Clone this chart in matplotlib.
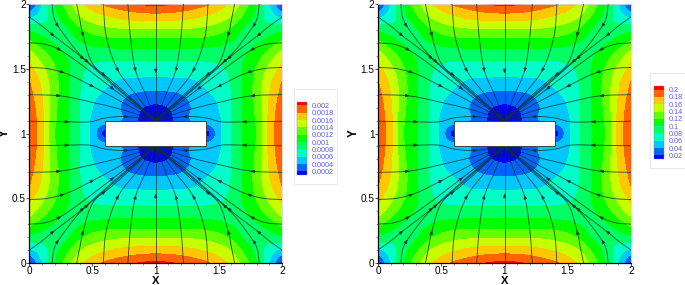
import numpy as np
import matplotlib
matplotlib.use("Agg")
import matplotlib.pyplot as plt
from matplotlib.colors import ListedColormap, BoundaryNorm
from matplotlib.cm import ScalarMappable
from matplotlib.patches import Rectangle

plt.rcParams['font.family'] = ['Liberation Sans', 'DejaVu Sans']

# Field, in units of 0.001, upper-left quadrant
quad_x = [0, .1, .2, .3, .4, .5, .6, .7, .8, .9, 1.0]
quad_y = [1.0, 1.1, 1.2, 1.3, 1.4, 1.5, 1.6, 1.7, 1.8, 1.9, 2.0]
row_10 = [1.98, 1.65, 1.20, 1.03, .80, .52, .10, .10, .10, .10, .10]
row_11 = [1.97, 1.65, 1.23, 1.03, .80, .56, .50, .42, .30, .12, .00]
row_12 = [1.93, 1.63, 1.25, 1.03, .80, .60, .52, .42, .30, .20, .15]
row_13 = [1.87, 1.60, 1.28, 1.03, .80, .64, .57, .47, .39, .35, .33]
row_14 = [1.80, 1.55, 1.27, 1.03, .82, .69, .64, .58, .55, .54, .53]
row_15 = [1.66, 1.45, 1.22, 1.03, .85, .76, .72, .70, .70, .70, .70]
row_16 = [1.50, 1.30, 1.12, .98, .88, .87, .87, .87, .87, .87, .87]
row_17 = [1.25, 1.10, .98, .92, .98, 1.05, 1.08, 1.10, 1.10, 1.10, 1.10]
row_18 = [.95, .90, .85, .97, 1.15, 1.27, 1.33, 1.36, 1.37, 1.37, 1.37]
row_19 = [.55, .70, .92, 1.15, 1.38, 1.50, 1.57, 1.63, 1.67, 1.69, 1.70]
row_20 = [.10, .60, 1.00, 1.30, 1.55, 1.70, 1.83, 1.90, 1.97, 2.02, 2.04]
quad_rows = [row_10, row_11, row_12, row_13, row_14, row_15, row_16, row_17, row_18, row_19, row_20]

levels_left = [.0002, .0004, .0006, .0008, .001, .0012, .0014, .0016, .0018, .002]
labels_left = ['0.0002', '0.0004', '0.0006', '0.0008', '0.001', '0.0012', '0.0014', '0.0016', '0.0018', '0.002']
levels_right = [.02, .04, .06, .08, .1, .12, .14, .16, .18, .2]
labels_right = ['0.02', '0.04', '0.06', '0.08', '0.1', '0.12', '0.14', '0.16', '0.18', '0.2']
band_colors = ['#0000ff', '#0064ff', '#00c8ff', '#00ffc8', '#00ff64', '#00ff00',
               '#64ff00', '#c8ff00', '#ffc800', '#ff6400', '#ff0000']

# Streamlines read from the upper-left quadrant (x, y), ending at the stagnation point
stream_left_19 = [(0, 1.9), (.1, 1.83), (.2, 1.75), (.4, 1.6), (.55, 1.47), (.75, 1.3), (1, 1.1)]
stream_top_18 = [(.18, 2), (.2, 1.88), (.27, 1.77), (.4, 1.61), (.55, 1.48), (.75, 1.31), (1, 1.1)]
stream_top_38 = [(.375, 2), (.4, 1.88), (.425, 1.76), (.5, 1.54), (.65, 1.41), (.8, 1.28), (1, 1.1)]
stream_top_58 = [(.585, 2), (.61, 1.745), (.7, 1.49), (.85, 1.295), (1, 1.1)]
stream_top_78 = [(.78, 2), (.8, 1.745), (.84, 1.49), (.92, 1.3), (1, 1.1)]
stream_top_100 = [(1, 2), (1, 1.6), (1, 1.1)]
stream_left_17 = [(0, 1.7), (.12, 1.69), (.243, 1.645), (.4, 1.54), (.55, 1.43), (.75, 1.28), (1, 1.1)]
stream_left_15 = [(0, 1.51), (.15, 1.5), (.3, 1.46), (.45, 1.39), (.7, 1.26), (1, 1.1)]
stream_left_13 = [(0, 1.3), (.25, 1.29), (.5, 1.24), (.75, 1.18), (1, 1.1)]
stream_left_11 = [(0, 1.095), (.3, 1.09), (.48, 1.09), (.6, 1.12), (.77, 1.13), (1, 1.1)]
streams = [stream_left_19, stream_top_18, stream_top_38, stream_top_58, stream_top_78,
           stream_top_100, stream_left_17, stream_left_15, stream_left_13, stream_left_11]
# Where the arrow heads sit on each streamline
arrows_19 = [(.2, 1.75), (.42, 1.58)]
arrows_18 = [(.23, 1.83), (.46, 1.56)]
arrows_38 = [(.425, 1.76), (.6, 1.45)]
arrows_58 = [(.7, 1.49)]
arrows_78 = [(.84, 1.49)]
arrows_100 = [(1, 1.49)]
arrows_17 = [(.243, 1.645), (.65, 1.35)]
arrows_15 = [(.27, 1.47), (.5, 1.37)]
arrows_13 = [(.25, 1.29)]
arrows_11 = [(.3, 1.09), (.77, 1.13)]
arrow_points = [arrows_19, arrows_18, arrows_38, arrows_58, arrows_78,
                arrows_100, arrows_17, arrows_15, arrows_13, arrows_11]


def full_field():
    q = np.array(quad_rows)
    upper = np.hstack([q, q[:, -2::-1]])
    whole = np.vstack([upper[:0:-1], upper])
    xs = np.r_[quad_x, 2 - np.array(quad_x[-2::-1])]
    ys = np.r_[2 - np.array(quad_y[:0:-1]), quad_y]
    return xs, ys, whole


def cubic_axis(a, n=5):
    """Round off the contour polygons of the read table along axis 0."""
    a = np.vstack([2 * a[0] - a[1], a, 2 * a[-1] - a[-2]])
    out = []
    for i in range(1, len(a) - 2):
        for t in np.arange(n) / n:
            out.append(.5 * (2 * a[i] + (a[i + 1] - a[i - 1]) * t
                             + (2 * a[i - 1] - 5 * a[i] + 4 * a[i + 1] - a[i + 2]) * t**2
                             + (3 * a[i] - a[i - 1] - 3 * a[i + 1] + a[i + 2]) * t**3))
    out.append(a[-2])
    return np.array(out)


def smooth(points):
    p = np.array(points, float)
    p = np.vstack([2 * p[0] - p[1], p, 2 * p[-1] - p[-2]])
    out = []
    for i in range(1, len(p) - 2):
        t = np.linspace(0, 1, 15)[:, None]
        out.append(.5 * (2 * p[i] + (p[i + 1] - p[i - 1]) * t
                         + (2 * p[i - 1] - 5 * p[i] + 4 * p[i + 1] - p[i + 2]) * t**2
                         + (3 * p[i] - p[i - 1] - 3 * p[i + 1] + p[i + 2]) * t**3))
    return np.vstack(out)


def draw_stream(ax, xy, marks):
    ax.plot(xy[:, 0], xy[:, 1], color='#103030', lw=.6, alpha=.85, zorder=3, solid_capstyle='butt')
    for mark in marks:
        i = int(np.argmin(np.hypot(xy[:, 0] - mark[0], xy[:, 1] - mark[1])))
        i = min(i, len(xy) - 2)
        if np.allclose(xy[i], xy[i + 1]):
            i = max(i - 1, 0)
        ax.annotate('', xy=xy[i + 1], xytext=xy[i],
                    arrowprops=dict(arrowstyle='-|>,head_length=.25,head_width=.1', color='#103030',
                                    lw=.4, shrinkA=0, shrinkB=0), zorder=4)


W, H = 685, 285
fig = plt.figure(figsize=(W / 100, H / 100), dpi=100)
X, Y, F = full_field()
Xf = cubic_axis(X[:, None])[:, 0]
Yf = cubic_axis(Y[:, None])[:, 0]
Ff = cubic_axis(cubic_axis(F).T).T
cmap = ListedColormap(band_colors[1:-1]).with_extremes(under=band_colors[0], over=band_colors[-1])


def panel(left, right, scale, levels, labels, box, bar):
    top, bottom = 4, 263
    ax = fig.add_axes([left / W, 1 - bottom / H, (right - left) / W, (bottom - top) / H])
    norm = BoundaryNorm(levels, cmap.N)
    ax.contourf(Xf, Yf, Ff * scale, levels=levels, cmap=cmap, norm=norm, extend='both', zorder=1)
    ax.add_patch(Rectangle((.6, .9), .8, .2, fc='white', ec='#404040', lw=.7, zorder=5))
    for pts, marks in zip(streams, arrow_points):
        xy = smooth(pts)
        for sx, sy in ((1, 1), (-1, 1), (1, -1), (-1, -1)):
            if sx == -1 and pts[0][0] == 1:
                continue
            mapped = np.c_[1 + sx * (xy[:, 0] - 1), 1 + sy * (xy[:, 1] - 1)]
            mapped_marks = [(1 + sx * (m[0] - 1), 1 + sy * (m[1] - 1)) for m in marks]
            draw_stream(ax, mapped, mapped_marks)
    ax.set_xlim(0, 2)
    ax.set_ylim(0, 2)
    ax.set_xticks([0, .5, 1, 1.5, 2], ['0', '0.5', '1', '1.5', '2'])
    ax.set_yticks([0, .5, 1, 1.5, 2], ['0', '0.5', '1', '1.5', '2'])
    ax.set_xticks(np.arange(0, 2.01, .1), minor=True)
    ax.set_yticks(np.arange(0, 2.01, .1), minor=True)
    ax.tick_params(which='major', length=2, width=.6, labelsize=7.2, pad=.5, color='#333333')
    ax.tick_params(which='minor', length=1.2, width=.4, color='#555555')
    for s in ('top', 'right'):
        ax.spines[s].set_color('#d8d8d8')
        ax.spines[s].set_linewidth(.6)
    for s in ('left', 'bottom'):
        ax.spines[s].set_linewidth(.9)
    fig.text((left + right) / 2 / W, 1 - 281 / H, 'X', fontsize=8, fontweight='bold', ha='center', va='center')
    fig.text((left - 24.5) / W, 1 - 133.5 / H, 'Y', fontsize=8.5, fontweight='bold', rotation=90, ha='center', va='center')

    bx0, by0, bx1, by1 = box
    fig.add_artist(Rectangle((bx0 / W, 1 - by1 / H), (bx1 - bx0) / W, (by1 - by0) / H,
                             transform=fig.transFigure, fc='white', ec='#e4e4e4', lw=.6, zorder=-1))
    cx0, cy0, cx1, cy1 = bar
    cax = fig.add_axes([cx0 / W, 1 - cy1 / H, (cx1 - cx0) / W, (cy1 - cy0) / H])
    cb = fig.colorbar(ScalarMappable(norm=norm, cmap=cmap), cax=cax, extend='both',
                      extendrect=True, extendfrac=.0556, spacing='uniform', ticks=levels,
                      drawedges=False)
    cb.ax.set_yticklabels(labels)
    cb.ax.tick_params(length=0, labelsize=5.2, labelcolor='#5a5aff', pad=3.2)
    cb.ax.minorticks_off()
    cb.outline.set_linewidth(.3)
    cb.outline.set_edgecolor('#888888')


panel(29.3, 282, .001, levels_left, labels_left, (293.5, 88.5, 337, 184), (297, 101.7, 307, 175))
panel(378, 631, .1, levels_right, labels_right, (650, 73.5, 684.5, 167.5), (653.5, 86, 664, 159))
fig.savefig('out.png', dpi=100)
